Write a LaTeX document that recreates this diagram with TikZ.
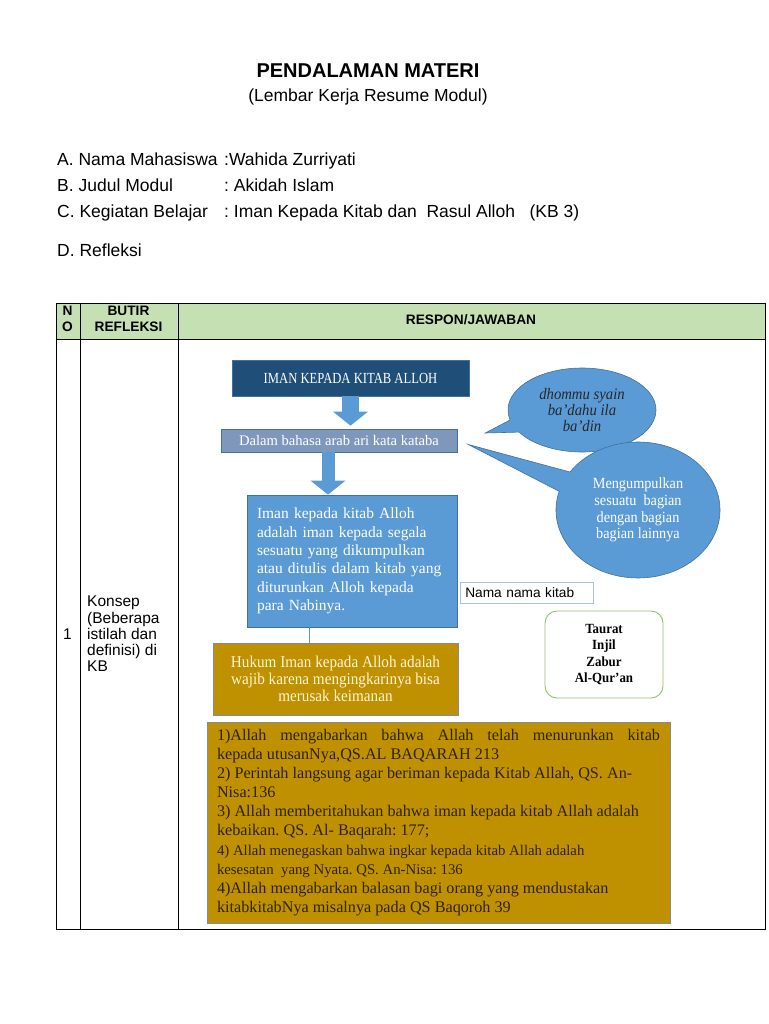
\documentclass[tikz,border=0pt]{standalone}
\usepackage{fontspec}
\setmainfont{Liberation Serif}
\newfontfamily\headfont{Liberation Sans}
\newfontfamily\boxfont{Liberation Serif}
\newfontfamily\midfont[FakeStretch=0.92]{Liberation Serif}
\newfontfamily\narrowfont[FakeStretch=0.82]{Liberation Serif}
\usetikzlibrary{arrows.meta, calc, shapes.callouts, positioning}
\newcommand{\setfs}[2]{\fontsize{#1}{#2}\selectfont}
\definecolor{cHead}{HTML}{C5E0B3}
\definecolor{cNavy}{HTML}{1F4E79}
\definecolor{cSteel}{HTML}{8097BC}
\definecolor{cBlue}{HTML}{5B9BD5}
\definecolor{cBlueB}{HTML}{41719C}
\definecolor{cGold}{HTML}{BF9000}
\definecolor{cGoldB}{HTML}{7E8CA0}
\definecolor{cInk}{HTML}{2E2300}
\definecolor{cCream}{HTML}{FFF5D6}
\definecolor{cGreenB}{HTML}{8DC26F}
\definecolor{cTxtBox}{HTML}{A9C1DE}

\begin{document}
\frenchspacing
\begin{tikzpicture}[x=1pt, y=-1pt,
  txt/.style={inner sep=0pt, anchor=base west, font=\headfont\setfs{17.5}{20}},
  sel/.style={inner sep=0pt, align=center, font=\headfont\bfseries\setfs{13.7}{16}},
  kotak/.style={draw=cBlueB, line width=0.6pt, inner sep=0pt, align=center, text=white},
  panah/.style={line width=#1, draw=cBlue, -{Triangle[length=14pt, width=34pt]}},
  gelembung/.style={ellipse callout, draw=cBlueB, fill=cBlue, line width=0.6pt, inner sep=0pt, align=center, callout pointer arc=18}
]
\fill[white] (0,0) rectangle (768,1024);
\useasboundingbox (0,0) rectangle (768,1024);

% kepala lembar kerja
\node[txt, font=\headfont\bfseries\setfs{20}{24}, anchor=base] (judul) at (368,78) {PENDALAMAN MATERI};
\node[txt, anchor=base] (subjudul) at (368,102) {(Lembar Kerja Resume Modul)};
\node[txt] (nama) at (57,166) {A. Nama Mahasiswa};
\node[txt] (namaIsi) at (224,166) {:Wahida Zurriyati};
\node[txt] (modul) at (57,192) {B. Judul Modul};
\node[txt] (modulIsi) at (224,192) {: Akidah Islam};
\node[txt] (kb) at (57,218) {C. Kegiatan Belajar};
\node[txt] (kbIsi) at (224,218) {: Iman Kepada Kitab dan\ \ Rasul Alloh\ \ \ (KB 3)};
\node[txt] (refleksi) at (57,256) {D. Refleksi};

% tabel
\fill[cHead] (56,303) rectangle (765,339);
\draw[line width=0.8pt] (56,303) rectangle (765,929);
\draw[line width=0.8pt] (56,339) -- (765,339);
\foreach \x in {80,178} \draw[line width=0.8pt] (\x,303) -- (\x,929);
\node[sel] (no) at (67.5,319) {N\\O};
\node[sel] (butir) at (128.5,319) {BUTIR\\REFLEKSI};
\node[sel] (respon) at (471,320) {RESPON/JAWABAN};
\node[inner sep=0pt, font=\headfont\setfs{15.5}{16}] (nomor) at (67.5,634) {1};
\node[inner sep=0pt, anchor=west, align=left, font=\headfont\setfs{15.5}{16.2}] (konsep) at (87,634) {Konsep\\(Beberapa\\istilah dan\\definisi) di\\KB};

% isi respon
\node[kotak, fill=cNavy, minimum width=237pt, minimum height=36pt, font=\narrowfont\setfs{15.4}{18}] (kitab) at (350.5,378) {IMAN KEPADA KITAB ALLOH};
\node[kotak, fill=cSteel, minimum width=236pt, minimum height=23pt, font=\boxfont\setfs{14.6}{17}] (dalam) at (339,440.5) {Dalam bahasa arab ari kata kataba};
\node[kotak, fill=cBlue, minimum width=210pt, minimum height=132pt, text width=190pt, align=left, font=\boxfont\setfs{15.5}{18.3}] (isi) at (352,561) {Iman kepada kitab Alloh\\adalah iman kepada segala\\sesuatu yang dikumpulkan\\atau ditulis dalam kitab yang\\diturunkan Alloh kepada\\para Nabinya.};
\node[kotak, draw=cGoldB, fill=cGold, text=cCream, minimum width=245pt, minimum height=72pt, font=\midfont\setfs{16.5}{17}] (hukum) at (335.5,679) {Hukum Iman kepada Alloh adalah\\wajib karena mengingkarinya bisa\\merusak keimanan};
\node[kotak, draw=cGoldB, fill=cGold, text=cInk, minimum width=463pt, minimum height=201pt, align=left, font=\boxfont\setfs{16.2}{19.1}] (ayat) at (438.5,822.5) {\makebox[443pt][s]{1)Allah mengabarkan bahwa Allah telah menurunkan kitab}\\kepada utusanNya,QS.AL BAQARAH 213\\2) Perintah langsung agar beriman kepada Kitab Allah, QS. An-\\Nisa:136\\3) Allah memberitahukan bahwa iman kepada kitab Allah adalah\\kebaikan. QS. Al- Baqarah: 177;\\{\setfs{14.8}{19.1}4) Allah menegaskan bahwa ingkar kepada kitab Allah adalah}\\{\setfs{14.8}{19.1}kesesatan\ \ yang Nyata. QS. An-Nisa: 136}\\4)Allah mengabarkan balasan bagi orang yang mendustakan\\kitabkitabNya misalnya pada QS Baqoroh 39};
\node[draw=cTxtBox, line width=0.6pt, fill=white, anchor=west, minimum height=21pt, text width=123pt, inner xsep=5pt, inner ysep=0pt, align=left, font=\headfont\setfs{13.7}{16}] (namakitab) at (460,592.5) {Nama nama kitab};
\node[draw=cGreenB, line width=0.9pt, rounded corners=12pt, fill=white, minimum width=118pt, minimum height=87pt, align=center, font=\midfont\bfseries\setfs{14}{16.5}] (daftar) at (604,654.5) {Taurat\\Injil\\Zabur\\Al-Qur’an};

% gelembung
\coordinate (ujung1) at ($(dalam.east)+(28,-7.5)$);
\coordinate (ujung2) at ($(dalam.east)+(11,4)$);
\node[gelembung, minimum width=148pt, minimum height=84pt, callout absolute pointer={(ujung1)}, text=black!85, font=\midfont\itshape\setfs{16}{16}] (arti) at (582,410) {dhommu syain\\ba’dahu ila\\ba’din};
\node[gelembung, minimum width=164pt, minimum height=136pt, callout absolute pointer={(ujung2)}, text=white, font=\midfont\setfs{15.5}{16.7}] (makna) at (638,510) {Mengumpulkan\\sesuatu\ \ bagian\\dengan bagian\\bagian lainnya};

% panah
\coordinate (p1) at ($(kitab.south |- dalam.north)+(0,-3)$);
\coordinate (p2) at ($(dalam.south)+(-11,0)$);
\coordinate (p3) at ($(isi.south west)!0.3!(isi.south east)$);
\draw[panah=17pt] (kitab.south) -- (p1);
\draw[panah=13pt] (p2) -- (p2 |- isi.north);
\draw[cBlue, line width=0.8pt] (p3) -- (p3 |- hukum.north);
\end{tikzpicture}
\end{document}
